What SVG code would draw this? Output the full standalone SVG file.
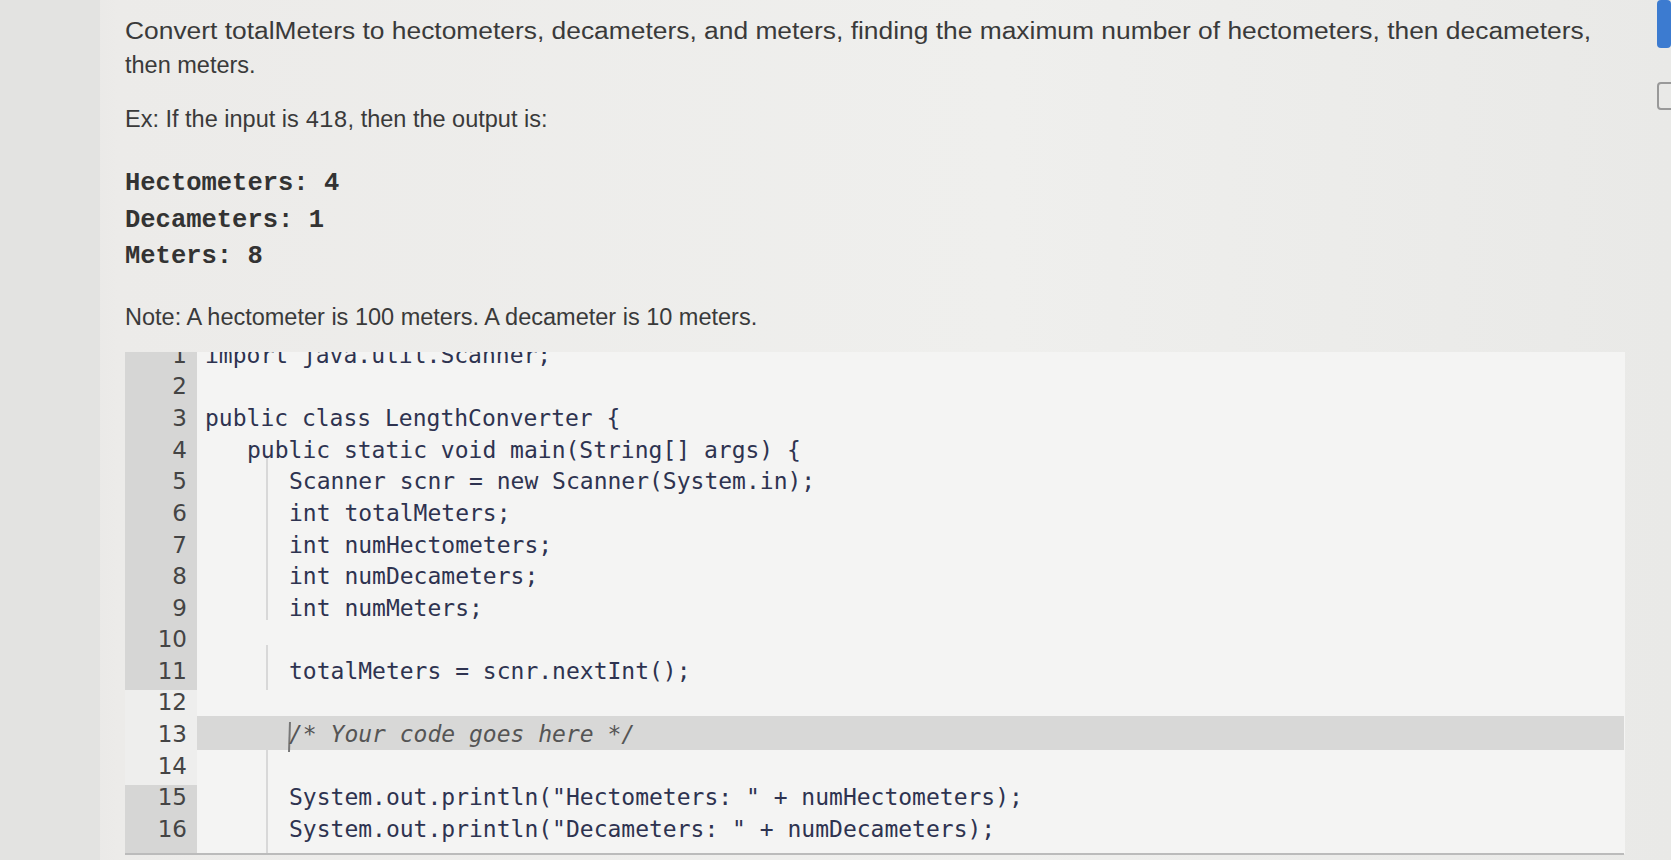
<svg xmlns="http://www.w3.org/2000/svg" width="1671" height="860" viewBox="0 0 1671 860">
<defs>
<linearGradient id="bg" x1="0" y1="0" x2="1" y2="0">
<stop offset="0" stop-color="#e2e2e0"/><stop offset="0.07" stop-color="#ecebe9"/><stop offset="0.6" stop-color="#efefed"/><stop offset="1" stop-color="#e9e9e7"/>
</linearGradient>
<clipPath id="box"><rect x="125" y="352" width="1500" height="502"/></clipPath>
<style>
.p{font-family:"Liberation Sans",Arial,sans-serif;font-size:23.5px;fill:#3a3a3a}
.m{font-family:"Liberation Mono","Courier New",monospace;font-size:25.5px;fill:#333;font-weight:bold}
.c{font-family:"DejaVu Sans Mono",monospace;font-size:23px;fill:#2e3350}
.n{font-family:"DejaVu Sans",sans-serif;font-size:23px;fill:#444;text-anchor:end}
.g{stroke:#cfcfcf;stroke-width:1.5}
</style>
</defs>
<rect width="1671" height="860" fill="url(#bg)"/>
<rect x="0" y="0" width="100" height="860" fill="#e3e3e1"/>
<text class="p" x="125" y="39" textLength="1466" lengthAdjust="spacingAndGlyphs">Convert totalMeters to hectometers, decameters, and meters, finding the maximum number of hectometers, then decameters,</text>
<text class="p" x="125" y="73">then meters.</text>
<text class="p" x="125" y="127">Ex: If the input is <tspan font-family="Liberation Mono,monospace">418</tspan>, then the output is:</text>
<text class="m" x="125" y="190">Hectometers: 4</text>
<text class="m" x="125" y="227">Decameters: 1</text>
<text class="m" x="125" y="263">Meters: 8</text>
<text class="p" x="125" y="325">Note: A hectometer is 100 meters. A decameter is 10 meters.</text>
<rect x="1657" y="0" width="14" height="48" rx="4" fill="#3c7bd0"/>
<rect x="1658" y="83" width="20" height="26" rx="3" fill="none" stroke="#999" stroke-width="2"/>
<g clip-path="url(#box)">
<rect x="125" y="352" width="1500" height="502" fill="#f4f4f3"/>
<rect x="125" y="352" width="72" height="338" fill="#d6d6d5"/>
<rect x="125" y="690" width="72" height="95" fill="#eeeeed"/>
<rect x="125" y="785" width="72" height="70" fill="#d6d6d5"/>
<rect x="197" y="716" width="1427" height="34" fill="#d8d8d7"/>
<line class="g" x1="267" y1="455" x2="267" y2="620"/>
<line class="g" x1="267" y1="645" x2="267" y2="690"/>
<line class="g" x1="267" y1="750" x2="267" y2="854"/>
<line x1="290" y1="722" x2="289" y2="752" stroke="#777" stroke-width="2"/>
<g class="n">
<text x="187" y="363">1</text><text x="187" y="394">2</text><text x="187" y="426">3</text><text x="187" y="458">4</text><text x="187" y="489">5</text><text x="187" y="521">6</text><text x="187" y="553">7</text><text x="187" y="584">8</text><text x="187" y="616">9</text><text x="187" y="647">10</text><text x="187" y="679">11</text><text x="187" y="710">12</text><text x="187" y="742">13</text><text x="187" y="774">14</text><text x="187" y="805">15</text><text x="187" y="837">16</text>
</g>
<g class="c">
<text x="205" y="363">import java.util.Scanner;</text>
<text x="205" y="426">public class LengthConverter {</text>
<text x="247" y="458">public static void main(String[] args) {</text>
<text x="289" y="489">Scanner scnr = new Scanner(System.in);</text>
<text x="289" y="521">int totalMeters;</text>
<text x="289" y="553">int numHectometers;</text>
<text x="289" y="584">int numDecameters;</text>
<text x="289" y="616">int numMeters;</text>
<text x="289" y="679">totalMeters = scnr.nextInt();</text>
<text x="289" y="742" font-style="italic" fill="#555">/* Your code goes here */</text>
<text x="289" y="805">System.out.println("Hectometers: " + numHectometers);</text>
<text x="289" y="837">System.out.println("Decameters: " + numDecameters);</text>
</g>
</g>
<line x1="125" y1="854" x2="1624" y2="854" stroke="#bbb" stroke-width="2"/>
</svg>
